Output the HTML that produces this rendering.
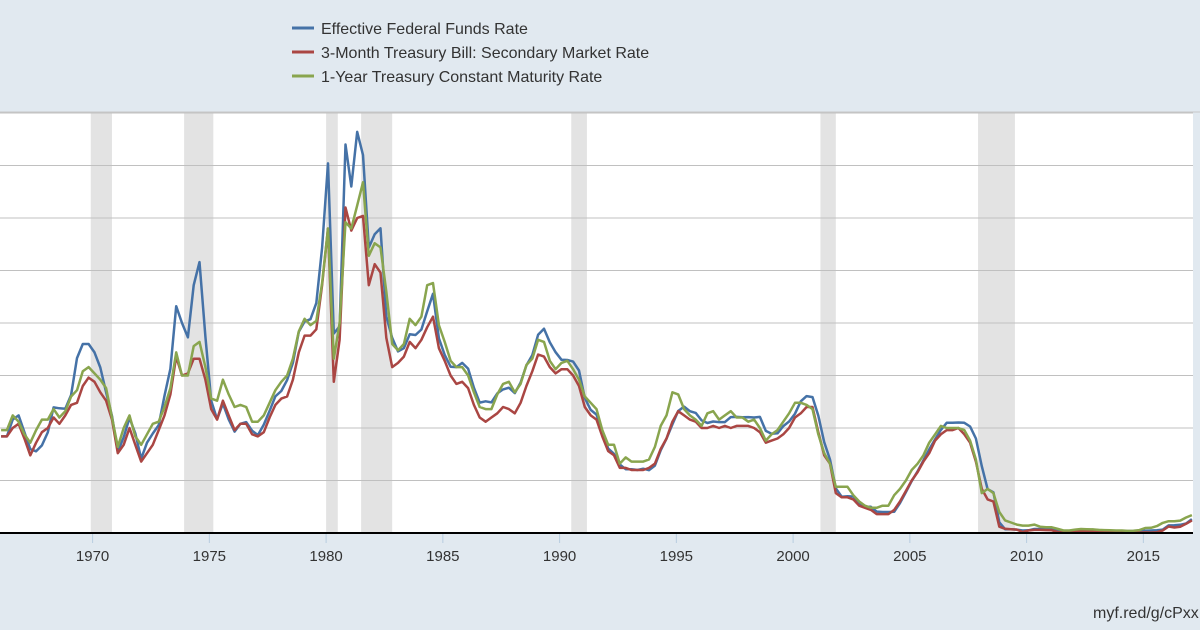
<!DOCTYPE html>
<html><head><meta charset="utf-8"><style>
html,body{margin:0;padding:0;background:#e1e9f0;}
svg{display:block;font-family:"Liberation Sans",sans-serif;}
</style></head><body>
<svg id="chart" width="1200" height="630" viewBox="0 0 1200 630" xmlns="http://www.w3.org/2000/svg">
<rect width="1200" height="630" fill="#e1e9f0"/>
<g font-size="16" fill="#333">
 <g><line x1="292" y1="28" x2="314" y2="28" stroke="#4572a7" stroke-width="3"/><text x="321" y="34">Effective Federal Funds Rate</text></g>
 <g><line x1="292" y1="52" x2="314" y2="52" stroke="#aa4643" stroke-width="3"/><text x="321" y="58">3-Month Treasury Bill: Secondary Market Rate</text></g>
 <g><line x1="292" y1="76" x2="314" y2="76" stroke="#89a54e" stroke-width="3"/><text x="321" y="82">1-Year Treasury Constant Maturity Rate</text></g>
</g>
<rect x="0" y="112" width="1193" height="421" fill="#fff"/>
<line x1="0" y1="112" x2="1200" y2="112" stroke="#c8c8c8" stroke-width="1"/>
<g id="rec"></g><g id="grid"></g><g id="series"></g><g id="xaxis"></g>
<line x1="0" y1="533" x2="1193" y2="533" stroke="#000" stroke-width="2"/>
<text x="1093" y="618" font-size="16" fill="#333">myf.red/g/cPxx</text>
</svg>
<script>
const startYear = 1966.08;
const fedFunds = [4.6,4.6,5.4,5.6, 4.8,3.99,3.89,4.17, 4.79,5.98,5.94,5.92, 6.57,8.33,9.0,9.0, 8.6,7.88,6.7,5.57, 3.86,4.56,5.48,4.75, 3.54,4.3,4.74,5.14, 6.54,7.82,10.8,10.0, 9.32,11.8,12.9,9.35, 6.3,5.42,6.16,5.41, 4.83,5.2,5.28,4.87, 4.66,5.16,5.82,6.51, 6.76,7.28,8.1,9.58, 10.07,10.18,10.95,13.58, 17.6,9.5,9.84,18.5, 16.5,19.1,18.0,13.59, 14.23,14.51,10.31,9.29, 8.65,8.8,9.46,9.43, 9.69,10.56,11.39,9.27, 8.48,7.92,7.9,8.1, 7.83,6.92,6.21,6.27, 6.22,6.65,6.84,6.92, 6.66,7.16,7.98,8.47, 9.44,9.73,9.08,8.61, 8.25,8.24,8.16,7.74, 6.43,5.86,5.64,4.82, 4.02,3.77,3.26,3.04, 3.04,3.0,3.06,2.99, 3.21,3.94,4.49,5.17, 5.81,6.02,5.8,5.72, 5.36,5.24,5.31,5.28, 5.28,5.52,5.53,5.51, 5.52,5.5,5.53,4.86, 4.73,4.75,5.09,5.31, 5.68,6.27,6.52,6.47, 5.59,4.33,3.5,2.13, 1.73,1.75,1.74,1.44, 1.25,1.25,1.02,1.0, 1.0,1.01,1.43,1.95, 2.47,2.94,3.46,3.98, 4.46,4.91,5.25,5.25, 5.26,5.25,5.07,4.5, 3.18,2.09,1.94,0.51, 0.18,0.18,0.16,0.12, 0.13,0.19,0.19,0.19, 0.16,0.09,0.08,0.07, 0.1,0.15,0.14,0.16, 0.14,0.12,0.08,0.09, 0.07,0.09,0.09,0.1, 0.11,0.12,0.13,0.16, 0.36,0.37,0.39,0.45, 0.66];
const tbill3m = [4.6,4.6,5.0,5.2, 4.5,3.7,4.3,4.8, 5.0,5.5,5.2,5.6, 6.1,6.2,7.0,7.4, 7.2,6.7,6.3,5.4, 3.8,4.2,5.0,4.2, 3.4,3.8,4.2,4.9, 5.6,6.6,8.4,7.5, 7.6,8.3,8.3,7.3, 5.9,5.4,6.3,5.6, 4.9,5.2,5.2,4.7, 4.6,4.8,5.5,6.1, 6.4,6.5,7.3,8.6, 9.4,9.4,9.7,11.8, 14.5,7.2,9.2,15.5, 14.4,15.0,15.1,11.8, 12.8,12.4,9.3,7.9, 8.1,8.4,9.1,8.8, 9.2,9.8,10.3,8.8, 8.2,7.5,7.1,7.2, 6.9,6.1,5.5,5.3, 5.5,5.7,6.0,5.9, 5.7,6.2,7.0,7.7, 8.5,8.4,7.9,7.6, 7.8,7.8,7.5,7.0, 6.0,5.6,5.4,4.6, 3.9,3.7,3.1,3.1, 3.0,3.0,3.0,3.1, 3.3,4.0,4.5,5.3, 5.8,5.6,5.4,5.3, 5.0,5.0,5.1,5.0, 5.1,5.0,5.1,5.1, 5.1,5.0,4.8,4.3, 4.4,4.5,4.7,5.0, 5.5,5.7,6.0,6.0, 4.8,3.7,3.3,1.9, 1.7,1.7,1.6,1.3, 1.2,1.1,0.9,0.9, 0.9,1.1,1.5,2.0, 2.5,2.9,3.4,3.8, 4.4,4.7,4.9,4.9, 5.0,4.7,4.3,3.4, 2.1,1.6,1.5,0.3, 0.2,0.18,0.16,0.05, 0.12,0.15,0.15,0.14, 0.13,0.05,0.02,0.01, 0.07,0.09,0.10,0.09, 0.09,0.05,0.03,0.06, 0.05,0.03,0.03,0.02, 0.03,0.02,0.04,0.12, 0.31,0.26,0.30,0.44, 0.6];
const tsy1y = [4.9,4.9,5.6,5.3, 4.7,4.3,4.9,5.4, 5.4,5.9,5.5,5.8, 6.5,6.8,7.7,7.9, 7.6,7.3,6.9,5.5, 4.1,5.0,5.6,4.6, 4.2,4.7,5.2,5.3, 6.0,6.9,8.6,7.5, 7.5,8.9,9.1,7.9, 6.4,6.3,7.3,6.6, 6.0,6.1,6.0,5.3, 5.3,5.6,6.2,6.8, 7.2,7.5,8.3,9.6, 10.2,9.9,10.1,11.9, 14.5,8.3,10.0,14.8, 14.5,15.6,16.7,13.2, 13.8,13.6,11.5,9.0, 8.7,9.0,10.2,9.9, 10.3,11.8,11.9,9.9, 9.1,8.2,7.9,7.9, 7.5,6.7,6.0,5.9, 5.9,6.6,7.1,7.2, 6.7,7.1,8.0,8.3, 9.2,9.1,8.2,7.8, 8.1,8.2,7.8,7.3, 6.5,6.2,5.9,4.9, 4.2,4.2,3.3,3.6, 3.4,3.4,3.4,3.5, 4.1,5.1,5.6,6.7, 6.6,5.9,5.6,5.4, 5.1,5.7,5.8,5.4, 5.6,5.8,5.5,5.5, 5.3,5.4,5.0,4.4, 4.7,4.9,5.3,5.7, 6.2,6.2,6.1,5.9, 4.7,3.8,3.3,2.2, 2.2,2.2,1.8,1.5, 1.3,1.2,1.2,1.3, 1.3,1.8,2.1,2.5, 3.0,3.3,3.7,4.3, 4.7,5.1,5.0,5.0, 5.0,4.9,4.4,3.5, 1.9,2.1,1.9,1.0, 0.6,0.5,0.4,0.35, 0.35,0.4,0.3,0.27, 0.27,0.2,0.12,0.12, 0.16,0.19,0.18,0.17, 0.15,0.14,0.13,0.12, 0.12,0.10,0.11,0.14, 0.24,0.25,0.33,0.48, 0.56,0.56,0.59,0.74, 0.85];
const recStart = [1969.92,1973.92,1980.0,1981.5,1990.5,2001.17,2007.92];
const recEnd = [1970.83,1975.17,1980.5,1982.83,1991.17,2001.83,2009.5];
const yTicks = [0,2.5,5,7.5,10,12.5,15,17.5,20];
const xTickLabels = [1970,1975,1980,1985,1990,1995,2000,2005,2010,2015];

const NS = "http://www.w3.org/2000/svg";
function xs(yr){ return 92.6 + (yr-1970)*23.35; }
function ys(v){ return 533 - v*21; }
function mk(tag, attrs, parent){ const e=document.createElementNS(NS,tag); for(const k in attrs) e.setAttribute(k,attrs[k]); parent.appendChild(e); return e; }

const rec=document.getElementById('rec');
recStart.forEach((s,i)=>{
  const r=mk('rect',{x:xs(s),y:113,width:xs(recEnd[i])-xs(s),height:420,fill:'#e3e3e3'},rec);
  
  
});
const grid=document.getElementById('grid');
yTicks.forEach(v=>{
  if(v===0) return;
  const l=mk('line',{x1:0,x2:1193,y1:ys(v),y2:ys(v),stroke:'#c0c0c0','stroke-width':1},grid);
  
  
});
const xa=document.getElementById('xaxis');
xTickLabels.forEach(yr=>{
  const t=mk('line',{x1:xs(yr),x2:xs(yr),y1:534,y2:543,stroke:'#b8cde0','stroke-width':1},xa);
  
  
  const lb=mk('text',{x:xs(yr),y:561,'text-anchor':'middle','font-size':15,fill:'#333'},xa);
  lb.textContent=yr;
  
  
});
const sg=document.getElementById('series');
function drawSeries(vals,color,name){
  const pts=vals.map((v,i)=>xs(startYear+i/4).toFixed(1)+','+ys(v).toFixed(1)).join(' ');
  const p=mk('polyline',{points:pts,fill:'none',stroke:color,'stroke-width':2.5,'stroke-linejoin':'round'},sg);
  
  
}
drawSeries(fedFunds,'#4572a7','fed-funds-line');
drawSeries(tbill3m,'#aa4643','tbill-3m-line');
drawSeries(tsy1y,'#89a54e','treasury-1y-line');
</script>
</body></html>
